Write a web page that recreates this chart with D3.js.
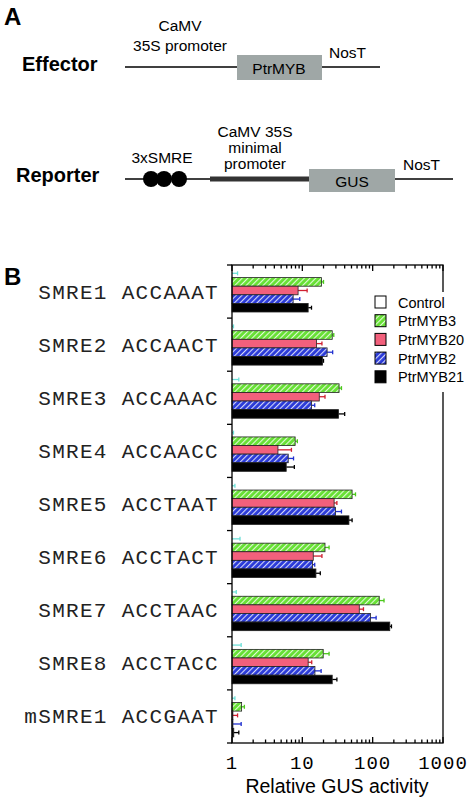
<!DOCTYPE html>
<html><head><meta charset="utf-8">
<script src="https://cdn.jsdelivr.net/npm/d3@7"></script>
<style>body{margin:0;background:#fff}text{font-family:Arial,"Liberation Sans",sans-serif}</style>
</head><body><svg id="c" width="474" height="801"></svg>
<script>
const sites = ['SMRE1', 'SMRE2', 'SMRE3', 'SMRE4', 'SMRE5', 'SMRE6', 'SMRE7', 'SMRE8', 'mSMRE1']
const motifs = ['ACCAAAT', 'ACCAACT', 'ACCAAAC', 'ACCAACC', 'ACCTAAT', 'ACCTACT', 'ACCTAAC', 'ACCTACC', 'ACCGAAT']
const seriesNames = ['Control', 'PtrMYB3', 'PtrMYB20', 'PtrMYB2', 'PtrMYB21']
const control = [1, 1, 1, 1, 1, 1, 1, 1, 1]
const controlErr = [1.2, 1.05, 1.25, 1.05, 1.1, 1.3, 1.15, 1.35, 1.1]
const myb3 = [18.7, 26.6, 33.3, 7.9, 51, 21, 124, 19.8, 1.37]
const myb3Err = [20, 28, 36, 8.5, 57, 24, 145, 24, 1.5]
const myb20 = [8.7, 15.9, 17.4, 4.5, 28.3, 14.3, 64.5, 12.1, 1.03]
const myb20Err = [11.7, 19, 21, 7, 31, 19, 74, 13.6, 1.2]
const myb2 = [7.4, 22.5, 13.5, 6.3, 29.6, 13.9, 93, 15.1, 1.03]
const myb2Err = [9.2, 27, 15, 7.5, 36, 15, 112, 18.5, 1.35]
const myb21 = [12.1, 19.4, 32.7, 5.9, 46, 15.6, 175, 26.6, 1.06]
const myb21Err = [13.5, 20, 40, 7.7, 51, 18, 185, 31, 1.25]
const xTicks = [1, 10, 100, 1000]

const values = [control, myb3, myb20, myb2, myb21]
const errs = [controlErr, myb3Err, myb20Err, myb2Err, myb21Err]
const fills = ['#fff', 'url(#hg)', '#f2607c', 'url(#hb)', '#000']
const errColors = ['#6fe0d8', '#4cc81c', '#d02030', '#2030d0', '#000']

const svg = d3.select('#c')
const defs = svg.append('defs')
function hatch (id, col) {
  const p = defs.append('pattern').attr('id', id).attr('patternUnits', 'userSpaceOnUse')
    .attr('width', 4).attr('height', 4).attr('patternTransform', 'rotate(45)')
  p.append('rect').attr('width', 4).attr('height', 4).attr('fill', col)
  p.append('rect').attr('width', 1.1).attr('height', 4).attr('fill', '#fff').attr('opacity', 0.8)
}
hatch('hg', '#66e033')
hatch('hb', '#2a3ad8')

// panel A diagram
const a = svg.append('g')
a.append('text').attr('x', 4).attr('y', 25).attr('font-size', 24).attr('font-weight', 'bold').text('A')
a.append('text').attr('x', 22).attr('y', 71).attr('font-size', 20).attr('font-weight', 'bold').text('Effector')
a.append('text').attr('x', 180).attr('y', 31).attr('font-size', 15.5).attr('text-anchor', 'middle').text('CaMV')
a.append('text').attr('x', 180).attr('y', 51).attr('font-size', 15.5).attr('text-anchor', 'middle').text('35S promoter')
a.append('line').attr('x1', 125).attr('x2', 380).attr('y1', 67).attr('y2', 67).attr('stroke', '#000').attr('stroke-width', 1.3)
a.append('rect').attr('x', 237).attr('y', 55).attr('width', 85).attr('height', 25).attr('fill', '#9fa7a6')
a.append('text').attr('x', 279).attr('y', 74).attr('font-size', 15.5).attr('text-anchor', 'middle').text('PtrMYB')
a.append('text').attr('x', 329).attr('y', 58).attr('font-size', 15.5).text('NosT')

a.append('text').attr('x', 16).attr('y', 182).attr('font-size', 20).attr('font-weight', 'bold').text('Reporter')
a.append('line').attr('x1', 125).attr('x2', 453).attr('y1', 179).attr('y2', 179).attr('stroke', '#000').attr('stroke-width', 1.3)
a.append('line').attr('x1', 210).attr('x2', 310).attr('y1', 179).attr('y2', 179).attr('stroke', '#333').attr('stroke-width', 5)
;[151, 164, 179].forEach(cx => a.append('circle').attr('cx', cx).attr('cy', 179).attr('r', 8).attr('fill', '#000'))
a.append('rect').attr('x', 309).attr('y', 169).attr('width', 86).attr('height', 23).attr('fill', '#9fa7a6')
a.append('text').attr('x', 352).attr('y', 187).attr('font-size', 15.5).attr('text-anchor', 'middle').text('GUS')
a.append('text').attr('x', 162).attr('y', 163).attr('font-size', 15.5).attr('text-anchor', 'middle').text('3xSMRE')
;['CaMV 35S', 'minimal', 'promoter'].forEach((t, i) =>
  a.append('text').attr('x', 255).attr('y', 137 + i * 16).attr('font-size', 15.5).attr('text-anchor', 'middle').text(t))
a.append('text').attr('x', 403).attr('y', 170).attr('font-size', 15.5).text('NosT')

// panel B chart
svg.append('text').attr('x', 4).attr('y', 285).attr('font-size', 24).attr('font-weight', 'bold').text('B')
const pLeft = 232, pRight = 443, pTop = 265, pBottom = 743
const x = d3.scaleLog().domain([1, 1000]).range([pLeft, pRight])
const y = d3.scaleBand().domain(sites).range([pTop, pBottom])
const yi = d3.scaleBand().domain(d3.range(5)).range([4, 47])

const g = svg.append('g')
sites.forEach((s, i) => {
  const gg = g.append('g').attr('transform', `translate(0,${y(s)})`)
  values.forEach((vals, k) => {
    const y0 = yi(k), h = yi.bandwidth()
    gg.append('line').attr('x1', x(vals[i])).attr('x2', x(errs[k][i])).attr('y1', y0 + h / 2).attr('y2', y0 + h / 2)
      .attr('stroke', errColors[k]).attr('stroke-width', 1.3)
    gg.append('line').attr('x1', x(errs[k][i])).attr('x2', x(errs[k][i])).attr('y1', y0 + h / 2 - 2).attr('y2', y0 + h / 2 + 2)
      .attr('stroke', errColors[k]).attr('stroke-width', 1.3)
    if (vals[i] > 1) {
      gg.append('rect').attr('x', pLeft).attr('y', y0).attr('width', x(vals[i]) - pLeft).attr('height', h)
        .attr('fill', fills[k]).attr('stroke', '#222').attr('stroke-width', 0.8)
    }
  })
  g.append('text').attr('x', 219).attr('y', y(s) + y.bandwidth() / 2 + 7).attr('text-anchor', 'end')
    .attr('font-size', 21).attr('letter-spacing', 1.3).attr('fill', '#222')
    .style('font-family', '"Liberation Mono",monospace').text(s + ' ' + motifs[i])
})

// axes
const minor = d3.range(1, 4).flatMap(e => d3.range(1, 10).map(m => m * Math.pow(10, e - 1))).concat([1000])
const ax = svg.append('g').attr('stroke', '#000').attr('stroke-width', 1.3)
ax.append('rect').attr('x', pLeft).attr('y', pTop).attr('width', pRight - pLeft).attr('height', pBottom - pTop).attr('fill', 'none')
minor.forEach(v => {
  const len = xTicks.includes(v) ? 6 : 3.5
  ax.append('line').attr('x1', x(v)).attr('x2', x(v)).attr('y1', pTop).attr('y2', pTop + len)
  ax.append('line').attr('x1', x(v)).attr('x2', x(v)).attr('y1', pBottom).attr('y2', pBottom - len)
})
d3.range(10).forEach(i => ax.append('line').attr('x1', pLeft - 5).attr('x2', pLeft).attr('y1', pTop + i * y.step()).attr('y2', pTop + i * y.step()))
xTicks.forEach(v => svg.append('text').attr('x', x(v)).attr('y', 769).attr('text-anchor', 'middle').attr('font-size', 19)
  .attr('letter-spacing', 1).style('font-family', '"Liberation Mono",monospace').text(v))
svg.append('text').attr('x', 337).attr('y', 793).attr('text-anchor', 'middle').attr('font-size', 19.5).text('Relative GUS activity')

// legend
const lg = svg.append('g').attr('transform', 'translate(368,292)')
lg.append('rect').attr('x', 0).attr('y', 0).attr('width', 100).attr('height', 100).attr('fill', '#fff')
seriesNames.forEach((n, k) => {
  lg.append('rect').attr('x', 7).attr('y', 4 + k * 18.7).attr('width', 11).attr('height', 12)
    .attr('fill', fills[k]).attr('stroke', '#000').attr('stroke-width', 1)
  lg.append('text').attr('x', 30).attr('y', 15.5 + k * 18.7).attr('font-size', 14.5).text(n)
})
</script></body></html>
